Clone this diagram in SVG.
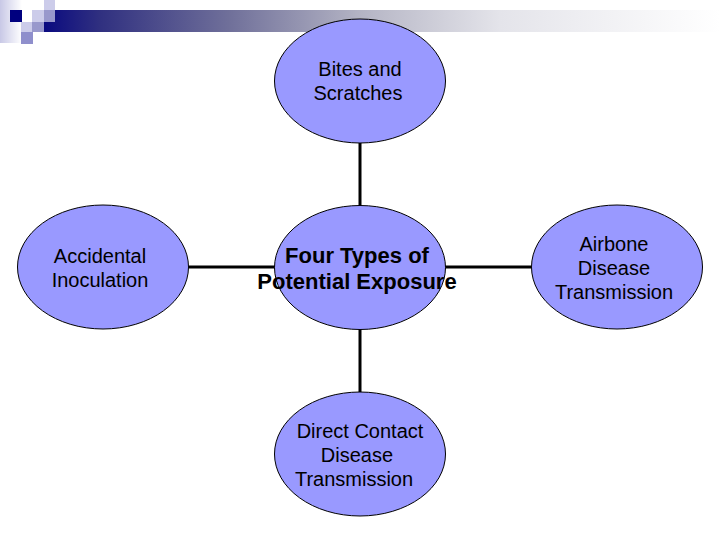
<svg xmlns="http://www.w3.org/2000/svg" width="720" height="540" viewBox="0 0 720 540">
<style>
.n{fill:#9999ff;stroke:#000;stroke-width:1}
.c{stroke:#000;stroke-width:3;fill:none}
text{font-family:"Liberation Sans",Arial,sans-serif;font-size:20px;fill:#000;text-anchor:middle}
.b{font-weight:bold;font-size:22px}
</style>
<defs>
<linearGradient id="bar" x1="44" x2="720" y1="0" y2="0" gradientUnits="userSpaceOnUse">
<stop offset="0" stop-color="#0a0a80"/><stop offset=".083" stop-color="#303080"/><stop offset=".275" stop-color="#70709a"/><stop offset=".467" stop-color="#b4b4c4"/><stop offset=".675" stop-color="#e4e4ea"/><stop offset="1" stop-color="#fff"/>
</linearGradient>
<linearGradient id="side" x1="0" x2="22" y1="0" y2="0" gradientUnits="userSpaceOnUse">
<stop offset="0" stop-color="#c8c8e6"/><stop offset="1" stop-color="#fff"/>
</linearGradient>
</defs>
<g id="decor">
<rect x="0" y="0" width="22" height="43" fill="url(#side)"/>
<rect x="44" y="10" width="676" height="22" fill="url(#bar)"/>
<rect x="10" y="10" width="12" height="12" fill="#00007f"/>
<rect x="32" y="10" width="12" height="12" fill="#ccccea"/>
<rect x="44" y="0" width="11" height="10" fill="#ccccea"/>
<rect x="44" y="10" width="11" height="12" fill="#9999cc"/>
<rect x="21" y="22" width="11" height="10" fill="#ccccea"/>
<rect x="32" y="22" width="12" height="10" fill="#9999cc"/>
<rect x="21" y="32" width="12" height="12" fill="#8f8fcc"/>
</g>
<g id="connectors">
<line class="c" x1="360" y1="142" x2="360" y2="206"/>
<line class="c" x1="360" y1="329" x2="360" y2="392"/>
<line class="c" x1="189" y1="267" x2="275" y2="267"/>
<line class="c" x1="445" y1="267" x2="531" y2="267"/>
</g>
<g id="bites"><ellipse class="n" cx="360" cy="81" rx="85.500" ry="62"/>
<text x="360" y="75.500">Bites and</text><text x="358" y="99.500">Scratches</text></g>
<g id="accidental"><ellipse class="n" cx="103" cy="267" rx="85.500" ry="62"/>
<text x="100" y="262.500">Accidental</text><text x="100" y="286.500">Inoculation</text></g>
<g id="center"><ellipse class="n" cx="360" cy="267.500" rx="85.500" ry="62"/>
<text class="b" x="357" y="263">Four Types of</text><text class="b" x="357" y="289">Potential Exposure</text></g>
<g id="airbone"><ellipse class="n" cx="617" cy="267" rx="85.500" ry="62"/>
<text x="614" y="250.500">Airbone</text><text x="614" y="274.500">Disease</text><text x="614" y="298.500">Transmission</text></g>
<g id="direct"><ellipse class="n" cx="360" cy="454" rx="85.500" ry="62"/>
<text x="360" y="437.500">Direct Contact</text><text x="357" y="461.500">Disease</text><text x="354" y="485.500">Transmission</text></g>
</svg>
